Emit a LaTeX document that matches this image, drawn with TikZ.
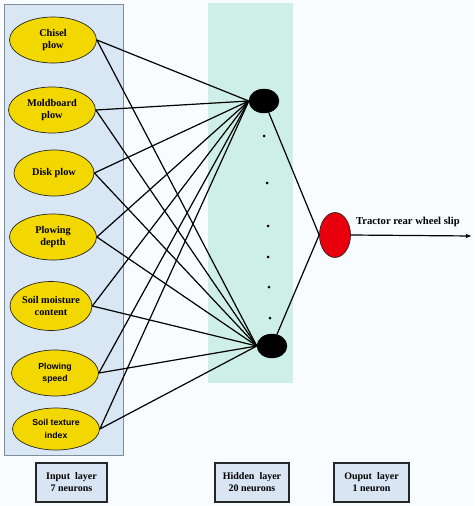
\documentclass[tikz,border=0pt]{standalone}
\usepackage{fontspec}
\setmainfont{Liberation Serif}
\newfontfamily\sansb{Liberation Sans}
\usetikzlibrary{shapes.geometric,arrows.meta}
\definecolor{bgc}{HTML}{F8FCFE}
\definecolor{inbox}{HTML}{D9E6F3}
\definecolor{inborder}{HTML}{7E8C9C}
\definecolor{hidbox}{HTML}{CDEFE8}
\definecolor{yel}{HTML}{F3D800}
\definecolor{outred}{HTML}{E8000C}
\definecolor{labfill}{HTML}{D9E5F2}
\begin{document}
\begin{tikzpicture}[x=1pt,y=-1pt,
  inp/.style={ellipse,draw=black!85,line width=0.7pt,fill=yel,minimum width=87pt,minimum height=46pt,inner sep=0pt,align=center,font=\bfseries\fontsize{10.3}{12.5}\selectfont},
  inps/.style={inp,font=\sansb\bfseries\fontsize{8.7}{12.5}\selectfont},
  hid/.style={ellipse,fill=black,draw=black,minimum width=30pt,minimum height=24pt,inner sep=0pt},
  dotn/.style={circle,fill=black,minimum size=3pt,inner sep=0pt},
  conn/.style={line width=1.2pt,black},
  labbox/.style={rectangle,draw=black!85,line width=1.4pt,fill=labfill,minimum width=71pt,minimum height=39pt,align=center,font=\bfseries\fontsize{10}{12}\selectfont}]
\useasboundingbox (0,0) rectangle (474,506);
\fill[bgc] (0,0) rectangle (474,506);
\filldraw[fill=inbox,draw=inborder,line width=0.8pt] (4,4) rectangle (123,455);
\fill[hidbox] (208,3) rectangle (293,383);
% input neurons
\node[inp] (i1) at (53,40) {Chisel\\plow};
\node[inp] (i2) at (52,110) {Moldboard\\plow};
\node[inp,minimum width=80pt] (i3) at (54,173) {Disk plow};
\node[inp] (i4) at (53,237) {Plowing\\depth};
\node[inp,minimum width=80pt,minimum height=49pt] (i5) at (51,306) {Soil moisture\\content};
\node[inps] (i6) at (55,373) {Plowing\\speed};
\node[inps,minimum height=42pt] (i7) at (56,429) {Soil texture\\index};
% hidden neurons
\node[hid] (h1) at (264,101) {};
\node[hid] (h2) at (272,346) {};
\node[dotn] (d1) at (264,136) {};
\node[dotn] (d2) at (267,183) {};
\node[dotn] (d3) at (268,226) {};
\node[dotn] (d4) at (268,257) {};
\node[dotn] (d5) at (269,287) {};
\node[dotn] (d6) at (270,318) {};
% output neuron
\node[ellipse,draw=black!85,line width=0.7pt,fill=outred,minimum width=31pt,minimum height=45pt,inner sep=0pt] (o) at (335,235) {};
\coordinate (end) at (472,236);
\node[anchor=west,font=\bfseries\fontsize{10.6}{12}\selectfont,inner sep=0pt] (tl) at (356,222) {Tractor rear wheel slip};
% connections
\foreach \i in {1,...,7}{
  \draw[conn] (i\i.east) -- (h1.west);
  \draw[conn] (i\i.east) -- (h2.west);
}
\draw[conn] (h1) -- (o.west);
\draw[conn] (h2) -- (o.west);
\draw[conn,-{Latex[length=6pt,width=4.5pt]}] (o.east) -- (end);
% labels
\node[labbox] (l1) at (71.5,482.5) {Input\ \ layer\\7 neurons};
\node[labbox,minimum width=74pt] (l2) at (252,482.5) {Hidden\ \ layer\\20 neurons};
\node[labbox,minimum width=75pt] (l3) at (371.5,482.5) {Ouput\ \ layer\\1 neuron};
\end{tikzpicture}
\end{document}
